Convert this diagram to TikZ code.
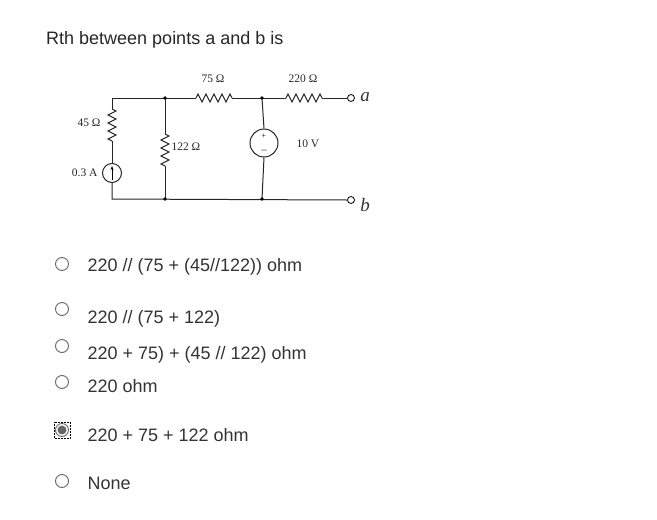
\documentclass[tikz,border=0pt]{standalone}
\usepackage{fontspec}
\setmainfont{Liberation Sans}
\newfontfamily\serif{Liberation Serif}
\usetikzlibrary{decorations.pathmorphing,arrows.meta}
\begin{document}
\begin{tikzpicture}[x=1pt,y=-1pt,
 wire/.style={line width=1pt,black!85},
 res/.style={line width=1pt,black!85,decorate,decoration={zigzag,segment length=8pt,amplitude=4pt}},
 clab/.style={font=\serif\fontsize{11.5}{12}\selectfont,text=black!85},
 opt/.style={anchor=west,font=\fontsize{18}{20}\selectfont,text=black!80},
 radio/.style={draw=black!60,line width=0.9pt,fill=white,circle,minimum size=13pt,inner sep=0pt}]
\useasboundingbox (0,0) rectangle (657,520);
\node[anchor=west,font=\fontsize{18}{20}\selectfont,text=black!85,inner sep=0pt] (title) at (46,40) {Rth between points a and b is};
% coordinates
\coordinate (tl) at (112,98); \coordinate (bl) at (112,199);
\coordinate (n1) at (165,98); \coordinate (n1b) at (165,199);
\coordinate (n2) at (262,98); \coordinate (n2b) at (262,199);
\coordinate (r75a) at (196,98); \coordinate (r75b) at (232,98);
\coordinate (r220a) at (286,98); \coordinate (r220b) at (322,98);
\coordinate (r45a) at (112,109); \coordinate (r45b) at (112,141);
\coordinate (r122a) at (165,134); \coordinate (r122b) at (165,166);
\node[draw,circle,wire,minimum size=19pt,inner sep=0pt] (cs) at (112,173) {};
\node[draw,circle,wire,minimum size=28pt,inner sep=0pt] (vs) at (264,143) {};
\node[draw,circle,line width=0.8pt,minimum size=7pt,inner sep=0pt] (ta) at (351,98) {};
\node[draw,circle,line width=0.8pt,minimum size=7pt,inner sep=0pt] (tb) at (351,200) {};
% wires
\draw[wire] (r45a) -- (tl) -- (r75a);
\draw[res] (r75a) -- (r75b);
\draw[wire] (r75b) -- (r220a);
\draw[res] (r220a) -- (r220b);
\draw[wire] (r220b) -- (ta.west);
\draw[res] (r45a) -- (r45b);
\draw[wire] (r45b) -- (cs.north);
\draw[wire] (cs.south) -- (bl) -- (tb.west);
\draw[wire] (n1) -- (r122a); \draw[res] (r122a) -- (r122b); \draw[wire] (r122b) -- (n1b);
\draw[wire] (n2) -- (vs.north); \draw[wire] (vs.south) -- (n2b);
\fill (n1) circle (1.8pt); \fill (n1b) circle (1.8pt); \fill (n2) circle (1.8pt); \fill (n2b) circle (1.8pt);
\draw[line width=0.9pt,-{Stealth[length=4pt]}] (112,180) -- (112,166);
\node[font=\serif\fontsize{8}{8}\selectfont] (plus) at (264,136) {+};
\node[font=\serif\fontsize{8}{8}\selectfont] (minus) at (264,151) {--};
% labels
\node[clab] (l75) at (213,79) {75 Ω};
\node[clab] (l220) at (303,79) {220 Ω};
\node[clab,anchor=east] (l45) at (104,123) {45 Ω};
\node[clab,anchor=west] (l122) at (168,147) {122 Ω};
\node[clab,anchor=west] (l10) at (293,144) {10 V};
\node[clab,anchor=east] (l03) at (101,173) {0.3 A};
\node[font=\serif\itshape\fontsize{19}{19}\selectfont,text=black!80] (la) at (365,97) {a};
\node[font=\serif\itshape\fontsize{19}{19}\selectfont,text=black!80] (lb) at (365,205) {b};
% options
\node[radio] (r1) at (62,264) {}; \node[opt] (o1) at (84,267) {220 // (75 + (45//122)) ohm};
\node[radio] (r2) at (62,309) {}; \node[opt] (o2) at (84,319) {220 // (75 + 122)};
\node[radio] (r3) at (62,346) {}; \node[opt] (o3) at (84,355) {220 + 75) + (45 // 122) ohm};
\node[radio] (r4) at (62,382) {}; \node[opt] (o4) at (84,386) {220 ohm};
\node[radio] (r5) at (62,430) {}; \fill[black!60] (r5) circle (4.5pt);
\draw[densely dotted,line width=0.5pt] (54,422) rectangle (70,438);
\node[opt] (o5) at (84,435) {220 + 75 + 122 ohm};
\node[radio] (r6) at (62,481) {}; \node[opt] (o6) at (84,483) {None};
\end{tikzpicture}
\end{document}
